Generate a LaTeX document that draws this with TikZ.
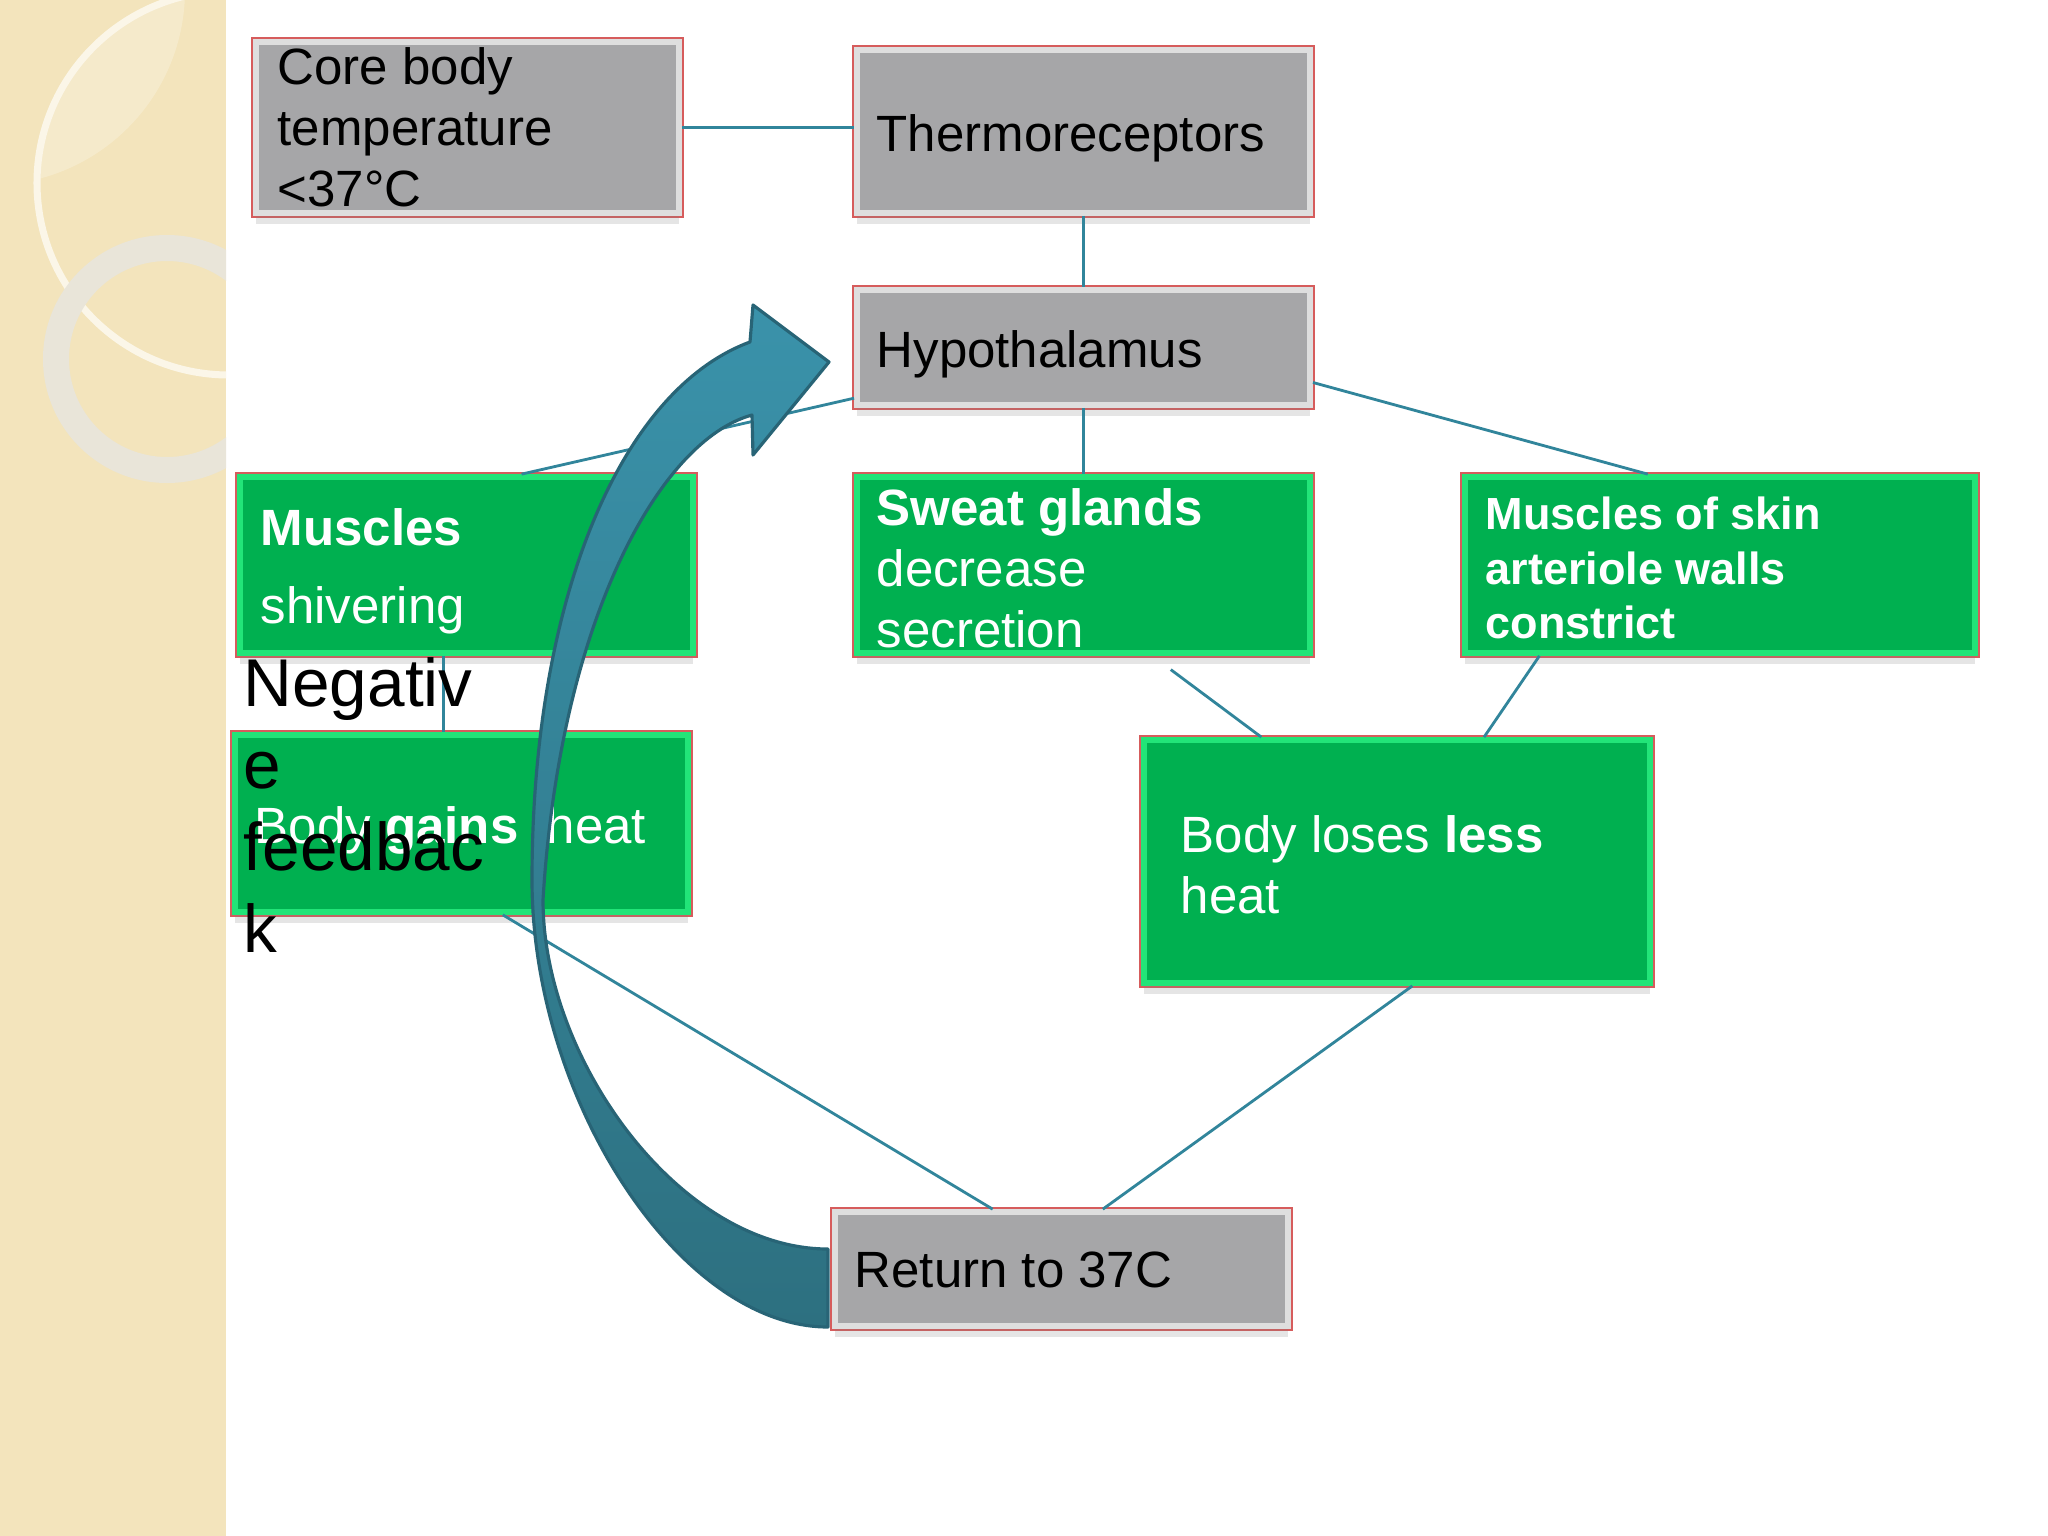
\documentclass[tikz,border=0pt]{standalone}
\usepackage{fontspec}
\setmainfont{Liberation Sans}
\usetikzlibrary{shadows, calc, positioning}
\definecolor{stripbeige}{RGB}{243, 228, 188}
\definecolor{ringcream}{RGB}{251, 246, 232}
\definecolor{ringgrey}{RGB}{233, 229, 217}
\definecolor{boxgrey}{RGB}{166, 166, 168}
\definecolor{bandgrey}{RGB}{222, 222, 222}
\definecolor{boxgreen}{RGB}{0, 176, 80}
\definecolor{bandgreen}{RGB}{34, 228, 120}
\definecolor{edgered}{RGB}{214, 92, 92}
\definecolor{linkteal}{RGB}{49, 133, 155}
\definecolor{arrowtop}{RGB}{58, 146, 170}
\definecolor{arrowbot}{RGB}{45, 112, 128}
\definecolor{arrowedge}{RGB}{40, 100, 118}

\begin{document}
\begin{tikzpicture}[x=0.01cm, y=-0.01cm,
    greybox/.style={fill=boxgrey, draw=bandgrey, line width=1.6pt, preaction={draw=edgered, line width=2.6pt},
        drop shadow={shadow xshift=0pt, shadow yshift=-3pt, opacity=0.2}, inner sep=0pt, minimum width=4.53cm},
    greenbox/.style={greybox, fill=boxgreen, draw=bandgreen},
    boxtext/.style={anchor=west, inner sep=0pt, align=left, font=\fontsize{14.5}{17.4}\selectfont},
    greentext/.style={boxtext, text=white},
    link/.style={draw=linkteal, line width=0.8pt},
    fbarrow/.style={draw=arrowedge, line width=0.9pt, line join=round, top color=arrowtop, bottom color=arrowbot}
]
    % page and left strip
    \fill[white] (0,0) rectangle (2048,1536);
    \useasboundingbox (0,0) rectangle (2048,1536);
    \fill[stripbeige] (0,0) rectangle (226,1536);
    \begin{scope}
        \clip (0,0) rectangle (226,1536);
        \begin{scope}
            \clip (229,183) circle[radius=192];
            \fill[ringcream, opacity=0.35] (-10,-10) circle[radius=195];
        \end{scope}
        \draw[ringcream, line width=2pt] (229,183) circle[radius=192];
        \fill[ringgrey, even odd rule] (167,359) circle[radius=124] (167,359) circle[radius=98];
    \end{scope}

    % boxes
    \node[greybox, minimum width=4.23cm, minimum height=1.71cm] (core) at (467.5,127.5) {};
    \node[greybox, minimum height=1.63cm] (thermo) at (1083.5,131.5) {};
    \node[greybox, minimum height=1.15cm] (hypo) at (1083.5,347.5) {};
    \node[greenbox, minimum height=1.76cm] (muscles) at (466.5,565) {};
    \node[greenbox, minimum height=1.76cm] (sweat) at (1083.5,565) {};
    \node[greenbox, minimum width=5.10cm, minimum height=1.76cm] (skin) at (1720,565) {};
    \node[greenbox, minimum height=1.77cm] (gains) at (461.5,823.5) {};
    \node[greenbox, minimum width=5.06cm, minimum height=2.43cm] (loses) at (1397,861.5) {};
    \node[greybox, minimum height=1.14cm] (ret) at (1061.5,1269) {};

    % texts
    \node[boxtext] (coretext) at ([xshift=0.24cm]core.west) {Core body\\temperature\\<37°C};
    \node[boxtext] (thermotext) at ([xshift=0.22cm, yshift=-0.07cm]thermo.west) {Thermoreceptors};
    \node[boxtext] (hypotext) at ([xshift=0.22cm, yshift=-0.065cm]hypo.west) {Hypothalamus};
    \node[greentext] (musclestext) at ([xshift=0.23cm, yshift=-0.065cm]muscles.west) {\textbf{Muscles}\\[4.8pt]shivering};
    \node[greentext] (sweattext) at ([xshift=0.22cm, yshift=-0.03cm]sweat.west) {\textbf{Sweat glands}\\decrease\\secretion};
    \node[greentext, font=\fontsize{12.8}{15.6}\selectfont\bfseries] (skintext) at ([xshift=0.23cm, yshift=-0.03cm]skin.west) {Muscles of skin\\arteriole walls\\constrict};
    \node[greentext] (gainstext) at ([xshift=0.22cm, yshift=-0.065cm]gains.west) {Body \textbf{gains}\ \ heat};
    \node[greentext] (losestext) at ([xshift=0.39cm, yshift=-0.03cm]loses.west) {Body loses \textbf{less}\\heat};
    \node[boxtext] (rettext) at ([xshift=0.22cm, yshift=-0.01cm]ret.west) {Return to 37C};

    % connectors
    \draw[link] (core.east) -- (core.east -| thermo.west);
    \draw[link] (thermo) -- (hypo);
    \draw[link] (hypo) -- (sweat);
    \draw[link] ($(hypo.west)!0.84!(hypo.south west)$) -- ($(muscles.north west)!0.62!(muscles.north east)$);
    \draw[link] ($(hypo.east)!0.58!(hypo.south east)$) -- ($(skin.north west)!0.36!(skin.north east)$);
    \draw[link] ($(muscles.south west)!0.45!(muscles.south east)$) coordinate (mg) -- (mg |- gains.north);
    \draw[link, shorten <=0.23cm] ($(sweat.south west)!0.65!(sweat.south east)$) -- ($(loses.north west)!0.235!(loses.north east)$);
    \draw[link] ($(skin.south west)!0.15!(skin.south east)$) -- ($(loses.north west)!0.67!(loses.north east)$);
    \draw[link] ($(gains.south west)!0.59!(gains.south east)$) -- ($(ret.north west)!0.35!(ret.north east)$);
    \draw[link] ($(loses.south west)!0.53!(loses.south east)$) -- ($(ret.north west)!0.59!(ret.north east)$);

    % curved feedback arrow
    \draw[fbarrow] (828,1327) .. controls (680,1327) and (532,1100) .. (532,880)
        .. controls (532,600) and (620,390) .. (750,342)
        -- (753,305) -- (829,362) -- (753,455) -- (752,415)
        .. controls (660,440) and (560,620) .. (543,900)
        .. controls (543,1060) and (680,1249) .. (828,1249) -- cycle;

    \node[anchor=west, inner sep=0pt, align=left, font=\fontsize{19.2}{23.4}\selectfont] (negfb) at (243,805) {Negativ\\e\\feedbac\\k};
\end{tikzpicture}
\end{document}
